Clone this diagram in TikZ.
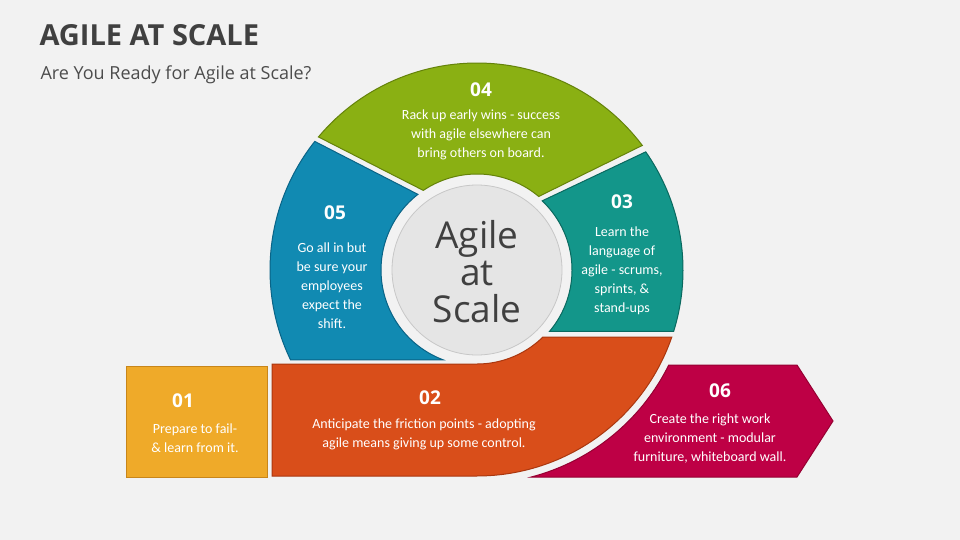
\documentclass[tikz,border=0pt]{standalone}
\usepackage{fontspec}
\setmainfont{Carlito}
\newfontfamily\osans{Open Sans}
\definecolor{bg}{RGB}{242,242,242}
\definecolor{cyel}{RGB}{239,170,41}\definecolor{dyel}{RGB}{200,134,26}
\definecolor{cmag}{RGB}{190,0,69}\definecolor{dmag}{RGB}{150,0,50}
\definecolor{cora}{RGB}{217,78,26}\definecolor{dora}{RGB}{170,55,15}
\definecolor{ctea}{RGB}{19,150,138}\definecolor{dtea}{RGB}{10,105,95}
\definecolor{cgre}{RGB}{138,176,19}\definecolor{dgre}{RGB}{100,130,10}
\definecolor{cblu}{RGB}{17,138,178}\definecolor{dblu}{RGB}{10,100,135}
\begin{document}
\begin{tikzpicture}[x=1pt,y=-1pt,
  seg/.style={line width=1pt},
  body/.style={text=white,align=center,font=\fontsize{14}{19}\selectfont},
  num/.style={text=white,font=\osans\bfseries\fontsize{19}{22}\selectfont}]
\useasboundingbox (0,0) rectangle (960,540);
\fill[bg] (0,0) rectangle (960,540);
\node[anchor=west,text=black!75,font=\osans\bfseries\fontsize{29}{32}\selectfont] (title) at (36,35) {AGILE AT SCALE};
\node[anchor=west,text=black!70,font=\osans\fontsize{18}{22}\selectfont] (sub) at (37,75) {Are You Ready for Agile at Scale?};
\draw[seg,fill=cyel,draw=dyel] (126,366) rectangle (267,477);
\begin{scope}[shift={(477,270)}]
\draw[seg,fill=cmag,draw=dmag] (320,95) -- (356,151) -- (320,207) -- plot[domain=-75.4:-26.4,samples=40] ({-\x}:214) -- cycle;
\draw[seg,fill=cora,draw=dora] (-205,94) -- plot[domain=270:314.5,samples=40] ({-\x}:94) -- plot[domain=341:270,samples=60] ({-\x}:206) -- (-205,206) -- cycle;
\draw[seg,fill=ctea,draw=dtea] plot[domain=-17.3:35,samples=50] ({-\x}:206) -- plot[domain=46.7:-40.3,samples=40] ({-\x}:95) -- cycle;
\draw[seg,fill=cgre,draw=dgre] plot[domain=37:140,samples=60] ({-\x}:207) -- plot[domain=124:50,samples=40] ({-\x}:96) -- cycle;
\draw[seg,fill=cblu,draw=dblu] plot[domain=141.6:205.7,samples=50] ({-\x}:207) -- plot[domain=249.3:128,samples=50] ({-\x}:96) -- cycle;
\draw[fill=black!10,draw=black!22,line width=0.8pt] (0,0) circle[radius=85];
\end{scope}
\node[text=black!75,align=center,font=\osans\fontsize{37}{37}\selectfont] (ctr) at (477,272) {Agile\\at\\Scale};
\node[num] (n4) at (481,90) {04};
\node[body] (t4) at (481,135) {Rack up early wins - success\\with agile elsewhere can\\bring others on board.};
\node[num] (n3) at (622,202) {03};
\node[body] (t3) at (622,271) {Learn the\\language of\\agile - scrums,\\sprints, \&\\stand-ups};
\node[num] (n5) at (335,213) {05};
\node[body] (t5) at (332,286) {Go all in but\\be sure your\\employees\\expect the\\shift.};
\node[num] (n1) at (183,401) {01};
\node[body] (t1) at (195,438) {Prepare to fail-\\\& learn from it.};
\node[num] (n2) at (430,398) {02};
\node[body] (t2) at (424,434) {Anticipate the friction points - adopting\\agile means giving up some control.};
\node[num] (n6) at (720,391) {06};
\node[body] (t6) at (710,439) {Create the right work\\environment - modular\\furniture, whiteboard wall.};
\end{tikzpicture}
\end{document}
